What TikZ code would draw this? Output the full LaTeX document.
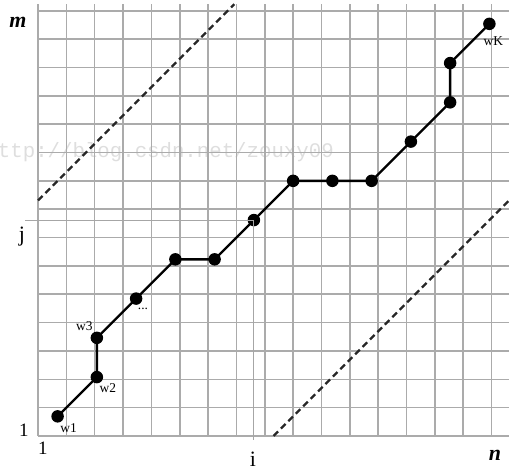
\documentclass[tikz,border=0pt]{standalone}
\usepackage{fontspec}
\setmainfont{Liberation Serif}
\newfontfamily\wmfont{Liberation Mono}
\begin{document}
\begin{tikzpicture}[x=39.25bp,y=39.25bp,
  gridline/.style={black!33, line width=1.6bp},
  guide/.style={black!35, line width=1.2bp},
  dot/.style={circle, fill=black, inner sep=0pt, minimum size=12.5bp},
  warp/.style={line width=2.4bp, black},
  band/.style={dash pattern=on 6.5bp off 4bp, line width=2.2bp, black!85},
  big/.style={font=\fontsize{22}{24}\selectfont, inner sep=0pt},
  axnum/.style={font=\fontsize{19}{20}\selectfont, inner sep=0pt},
  small/.style={font=\fontsize{13.5}{14}\selectfont, inner sep=0pt}]
\useasboundingbox (-0.968,-0.866) rectangle (12.382,11.108);
% watermark
\node[anchor=east, inner sep=0pt, text=black!13, font=\wmfont\fontsize{20.8}{22}\selectfont] (wm) at (7.54,7.236) {http://blog.csdn.net/zouxy09};
% grid
\draw[gridline] (0,0) grid (12,11);
% band limits
\coordinate (a1) at (0,6);
\coordinate (a2) at (5,11);
\coordinate (b1) at (6,0);
\coordinate (b2) at (12,6);
\draw[band] (a1) -- (a2);
\draw[band] (b1) -- (b2);
% warping path points
\node[dot] (p1) at (0.5,0.5) {};
\node[dot] (p2) at (1.5,1.5) {};
\node[dot] (p3) at (1.5,2.5) {};
\node[dot] (p4) at (2.5,3.5) {};
\node[dot] (p5) at (3.5,4.5) {};
\node[dot] (p6) at (4.5,4.5) {};
\node[dot] (p7) at (5.5,5.5) {};
\node[dot] (p8) at (6.5,6.5) {};
\node[dot] (p9) at (7.5,6.5) {};
\node[dot] (p10) at (8.5,6.5) {};
\node[dot] (p11) at (9.5,7.5) {};
\node[dot] (p12) at (10.5,8.5) {};
\node[dot] (p13) at (10.5,9.5) {};
\node[dot] (p14) at (11.5,10.5) {};
\draw[warp] (p1.center) -- (p2.center) -- (p3.center) -- (p4.center) -- (p5.center) -- (p6.center) -- (p7.center) -- (p8.center) -- (p9.center) -- (p10.center) -- (p11.center) -- (p12.center) -- (p13.center) -- (p14.center);
% guides to (i,j)
\coordinate (jl) at (-0.33,5.5);
\coordinate (il) at (5.5,-0.1);
\draw[guide] (jl) -- (p7.center) -- (il);
% labels
\node[small] (w1) at (0.78,0.2) {w1};
\node[small] (w2) at (1.78,1.22) {w2};
\node[small] (w3) at (1.18,2.79) {w3};
\node[small] (dots) at (2.675,3.25) {...};
\node[small] (wK) at (11.6,10.06) {wK};
\node[axnum] (one1) at (-0.357,0.153) {1};
\node[axnum] (one2) at (0.127,-0.306) {1};
\node[big] (li) at (5.478,-0.58) {i};
\node[big] (lj) at (-0.408,5.07) {j};
\node[big, font=\fontsize{22}{24}\selectfont\bfseries\itshape] (lm) at (-0.51,10.548) {m};
\node[big, font=\fontsize{22}{24}\selectfont\bfseries\itshape] (ln) at (11.643,-0.484) {n};
\end{tikzpicture}
\end{document}
